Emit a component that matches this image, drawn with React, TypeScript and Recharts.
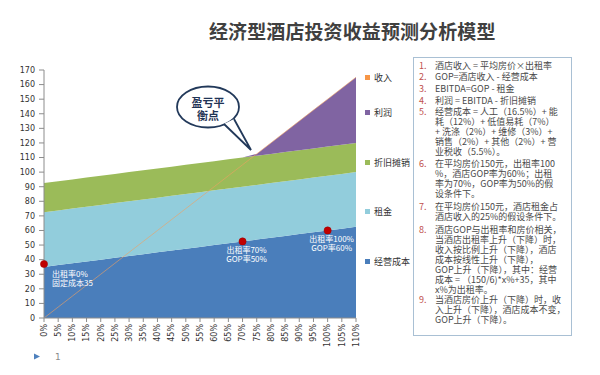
import React from 'react';
import { ComposedChart, Area, Line, XAxis, YAxis, ReferenceDot } from 'recharts';

const occupancy = [0, 5, 10, 15, 20, 25, 30, 35, 40, 45, 50, 55, 60, 65, 70, 75, 80, 85, 90, 95, 100, 105, 110];
const opCost = [35, 36.25, 37.5, 38.75, 40, 41.25, 42.5, 43.75, 45, 46.25, 47.5, 48.75, 50, 51.25, 52.5, 53.75, 55, 56.25, 57.5, 58.75, 60, 61.25, 62.5];
const rent = [37.5, 37.5, 37.5, 37.5, 37.5, 37.5, 37.5, 37.5, 37.5, 37.5, 37.5, 37.5, 37.5, 37.5, 37.5, 37.5, 37.5, 37.5, 37.5, 37.5, 37.5, 37.5, 37.5];
const depreciation = [20, 20, 20, 20, 20, 20, 20, 20, 20, 20, 20, 20, 20, 20, 20, 20, 20, 20, 20, 20, 20, 20, 20];
const profit = [0, 0, 0, 0, 0, 0, 0, 0, 0, 0, 0, 0, 0, 0, 0, 1.25, 7.5, 13.75, 20, 26.25, 32.5, 38.75, 45];
const revenue = [0, 7.5, 15, 22.5, 30, 37.5, 45, 52.5, 60, 67.5, 75, 82.5, 90, 97.5, 105, 112.5, 120, 127.5, 135, 142.5, 150, 157.5, 165];

const yTicks = [0, 10, 20, 30, 40, 50, 60, 70, 80, 90, 100, 110, 120, 130, 140, 150, 160, 170];

const markerX = [0, 70, 100];
const markerY = [37, 52.5, 60];
const markerLabels = [
  ['出租率0%', '固定成本35'],
  ['出租率70%', 'GOP率50%'],
  ['出租率100%', 'GOP率60%'],
];

const legendNames = ['收入', '利润', '折旧摊销', '租金', '经营成本'];
const legendColors = ['#f79646', '#8064a2', '#9bbb59', '#92cddc', '#4a7ebb'];
const legendTops = [71, 106, 156, 205, 255];

const notes: { n: string; lines: string[] }[] = [
  { n: '1.', lines: ['酒店收入 = 平均房价×出租率'] },
  { n: '2.', lines: ['GOP=酒店收入 - 经营成本'] },
  { n: '3.', lines: ['EBITDA=GOP - 租金'] },
  { n: '4.', lines: ['利润 = EBITDA - 折旧摊销'] },
  { n: '5.', lines: ['经营成本 = 人工（16.5%）+ 能', '耗（12%）+ 低值易耗（7%）', '+ 洗涤（2%）+ 维修（3%）+', '销售（2%）+ 其他（2%）+ 营', '业税收（5.5%）。'] },
  { n: '6.', lines: ['在平均房价150元，出租率100', '%，酒店GOP率为60%；出租', '率为70%，GOP率为50%的假', '设条件下。'] },
  { n: '7.', lines: ['在平均房价150元，酒店租金占', '酒店收入的25%的假设条件下。'] },
  { n: '8.', lines: ['酒店GOP与出租率和房价相关，', '当酒店出租率上升（下降）时，', '收入按比例上升（下降），酒店', '成本按线性上升（下降），', 'GOP上升（下降），其中：经营', '成本 = （150/6)*x%+35，其中', 'x%为出租率。'] },
  { n: '9.', lines: ['当酒店房价上升（下降）时，收', '入上升（下降），酒店成本不变，', 'GOP上升（下降）。'] },
];
const noteTops = [61, 72, 84, 96, 107, 159, 202, 225, 295];

const data = occupancy.map((o, i) => ({
  occ: o,
  opCost: opCost[i],
  rent: rent[i],
  depreciation: depreciation[i],
  profit: profit[i],
  revenue: revenue[i],
}));

const XTick = (props: any) => {
  const { x, y, payload } = props;
  return (
    <g transform={`translate(${x},${y})`}>
      <text transform="rotate(-90)" textAnchor="end" dy="0.35em" fontSize={8} fill="#333" fontFamily="DejaVu Sans">
        {`${payload.value}%`}
      </text>
    </g>
  );
};

const makeDotShape = (idx: number) => (props: any) => {
  const { cx, cy } = props;
  const lines = markerLabels[idx];
  const first = idx === 0;
  return (
    <g>
      <circle cx={cx} cy={cy} r={3.6} fill="#c00000" stroke="#a00000" strokeWidth={0.5} />
      {lines.map((t, k) => (
        <text
          key={k}
          x={first ? cx + 8 : cx + 4}
          y={cy + (first ? 10 : 8.5) + k * 9.5}
          dy="0.35em"
          textAnchor={first ? 'start' : 'middle'}
          fontSize={8}
          fill="#ffffff"
          fontFamily="Noto Sans CJK SC"
        >
          {t}
        </text>
      ))}
    </g>
  );
};

export default function App() {
  return (
    <div style={{ position: 'absolute', left: 0, top: 0, width: 600, height: 375, background: '#fff', overflow: 'hidden', fontFamily: 'Noto Sans CJK SC' }}>
      <div style={{ position: 'absolute', left: 209, top: 20, fontSize: 19, lineHeight: '22px', fontWeight: 700, color: '#404040', whiteSpace: 'nowrap', letterSpacing: 0.1 }}>
        经济型酒店投资收益预测分析模型
      </div>

      <ComposedChart width={600} height={375} data={data} margin={{ top: 70, right: 244, left: 14, bottom: 17 }}>
        <XAxis
          dataKey="occ"
          type="number"
          domain={[0, 110]}
          ticks={occupancy}
          interval={0}
          tick={<XTick />}
          tickSize={4}
          tickMargin={2}
          height={40}
          axisLine={{ stroke: '#8c8c8c' }}
          tickLine={{ stroke: '#8c8c8c' }}
        />
        <YAxis
          type="number"
          domain={[0, 170]}
          ticks={yTicks}
          interval={0}
          width={30}
          tickSize={5}
          tickMargin={4}
          tick={{ fontSize: 8, fill: '#333', fontFamily: 'DejaVu Sans' }}
          axisLine={{ stroke: '#8c8c8c' }}
          tickLine={{ stroke: '#8c8c8c' }}
        />
        <Area type="linear" dataKey="opCost" name="经营成本" stackId="1" fill="#4a7ebb" stroke="none" fillOpacity={1} isAnimationActive={false} />
        <Area type="linear" dataKey="rent" name="租金" stackId="1" fill="#92cddc" stroke="none" fillOpacity={1} isAnimationActive={false} />
        <Area type="linear" dataKey="depreciation" name="折旧摊销" stackId="1" fill="#9bbb59" stroke="none" fillOpacity={1} isAnimationActive={false} />
        <Area type="linear" dataKey="profit" name="利润" stackId="1" fill="#8064a2" stroke="none" fillOpacity={1} isAnimationActive={false} />
        <Line type="linear" dataKey="revenue" name="收入" stroke="#f0a060" strokeOpacity={0.6} strokeWidth={1} dot={false} isAnimationActive={false} />
        {markerX.map((mx, i) => (
          <ReferenceDot key={i} x={mx} y={markerY[i]} r={3.6} ifOverflow="visible" shape={makeDotShape(i)} />
        ))}
      </ComposedChart>

      {legendNames.map((name, i) => (
        <div
          key={name}
          style={{
            position: 'absolute',
            top: legendTops[i],
            left: 365,
            height: 12,
            display: 'flex',
            alignItems: 'center',
            fontSize: 9,
            color: '#333',
            whiteSpace: 'nowrap',
          }}
        >
          <span style={{ display: 'inline-block', width: 5, height: 5, background: legendColors[i], marginRight: 4 }} />
          {name}
        </div>
      ))}

      <svg width={600} height={375} style={{ position: 'absolute', left: 0, top: 0, pointerEvents: 'none' }}>
        <ellipse cx={208} cy={107} rx={31} ry={20.5} fill="#fff" stroke="#22395a" strokeWidth={1.8} />
        <path d="M224,124 L251,150 L234,119" fill="#fff" stroke="#22395a" strokeWidth={1.8} strokeLinejoin="miter" />
        <text x={208} y={103} dy="0.35em" textAnchor="middle" fontSize={11} fontWeight={700} fill="#1f3456" fontFamily="Noto Sans CJK SC">盈亏平</text>
        <text x={208} y={116.5} dy="0.35em" textAnchor="middle" fontSize={11} fontWeight={700} fill="#1f3456" fontFamily="Noto Sans CJK SC">衡点</text>
        <path d="M34,353.5 L40,356.5 L34,359.5 Z" fill="#4f81bd" />
        <text x={55} y={356.5} dy="0.35em" fontSize={9} fill="#8a8a8a" fontFamily="DejaVu Sans">1</text>
      </svg>

      <div style={{ position: 'absolute', left: 413, top: 57, width: 159, height: 279, border: '1px solid #a9c0d4', boxSizing: 'border-box' }} />
      {notes.map((item, i) => (
        <div key={i} style={{ position: 'absolute', top: noteTops[i], left: 419, fontSize: 9, lineHeight: '10px', color: '#4a4a4a', whiteSpace: 'nowrap' }}>
          <span style={{ position: 'absolute', left: 0, top: 0, color: '#c0504d' }}>{item.n}</span>
          <div style={{ marginLeft: 16 }}>
            {item.lines.map((l, k) => (
              <div key={k}>{l}</div>
            ))}
          </div>
        </div>
      ))}
    </div>
  );
}
